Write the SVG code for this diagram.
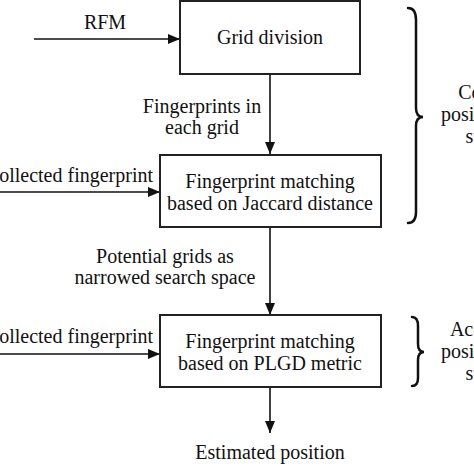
<svg xmlns="http://www.w3.org/2000/svg" width="474" height="474" viewBox="0 0 474 474">
<defs>
<marker id="ah" viewBox="0 0 12 10" refX="12" refY="5" markerWidth="12" markerHeight="10" markerUnits="userSpaceOnUse" orient="auto">
<path d="M0,0 L12,5 L0,10 Z" fill="#111"/>
</marker>
<style>
text{font-family:"Liberation Serif","Times New Roman",serif;font-size:20px;fill:#111}
.c{text-anchor:middle}
.e{text-anchor:end}
.box{fill:#fff;stroke:#222;stroke-width:2}
.ln{stroke:#111;stroke-width:1.6;fill:none}
.br{stroke:#111;stroke-width:2.5;fill:none;stroke-linecap:round}
</style>
</defs>
<rect width="474" height="474" fill="#fff"/>
<g id="connectors">
<line class="ln" x1="34" y1="39" x2="180" y2="39" marker-end="url(#ah)"/>
<line class="ln" x1="270" y1="74" x2="270" y2="154" marker-end="url(#ah)"/>
<line class="ln" x1="0" y1="192" x2="160" y2="192" marker-end="url(#ah)"/>
<line class="ln" x1="270" y1="227" x2="270" y2="315" marker-end="url(#ah)"/>
<line class="ln" x1="0" y1="354" x2="160" y2="354" marker-end="url(#ah)"/>
<line class="ln" x1="270" y1="387" x2="270" y2="433" marker-end="url(#ah)"/>
<text class="c" x="105" y="29">RFM</text>
<text class="c" x="202" y="113">Fingerprints in</text>
<text class="c" x="202" y="134">each grid</text>
<text class="e" x="153" y="182">Collected fingerprint</text>
<text class="c" x="165" y="263">Potential grids as</text>
<text class="c" x="165" y="284">narrowed search space</text>
<text class="e" x="153" y="343">Collected fingerprint</text>
</g>
<g id="grid-division">
<rect class="box" x="180" y="1" width="180" height="73"/>
<text class="c" x="270" y="44">Grid division</text>
</g>
<g id="jaccard-matching">
<rect class="box" x="160" y="155" width="221" height="72"/>
<text class="c" x="270" y="188">Fingerprint matching</text>
<text class="c" x="270" y="210">based on Jaccard distance</text>
</g>
<g id="plgd-matching">
<rect class="box" x="160" y="315" width="221" height="72"/>
<text class="c" x="270" y="348">Fingerprint matching</text>
<text class="c" x="270" y="370">based on PLGD metric</text>
</g>
<g id="estimated-position">
<text class="c" x="270" y="459">Estimated position</text>
</g>
<g id="coarse-stage">
<path class="br" d="M408,8 Q416,8 416,20 L416,108 Q416,117 423,117 Q416,117 416,126 L416,212 Q416,223 408,223"/>
<text class="c" x="486" y="99">Coarse</text>
<text class="c" x="486" y="121">positioning</text>
<text class="c" x="486" y="143">stage</text>
</g>
<g id="accurate-stage">
<path class="br" d="M412,317 Q418,317 418,326 L418,344 Q418,352 424,352 Q418,352 418,360 L418,378 Q418,386 412,386"/>
<text class="c" x="486" y="336">Accurate</text>
<text class="c" x="486" y="358">positioning</text>
<text class="c" x="486" y="380">stage</text>
</g>
</svg>
